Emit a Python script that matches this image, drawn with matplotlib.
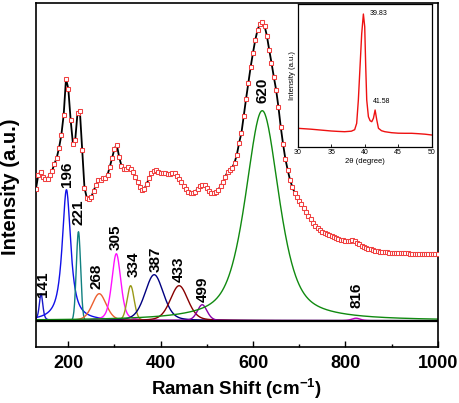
import matplotlib
import numpy as np

matplotlib.use("Agg")
import matplotlib.pyplot as plt  # noqa: E402
from matplotlib.ticker import MultipleLocator  # noqa: E402

plt.rcParams["font.family"] = ["Liberation Sans", "DejaVu Sans"]
plt.rcParams["mathtext.fontset"] = "custom"
plt.rcParams["mathtext.bf"] = "Liberation Sans:bold"
plt.rcParams["mathtext.default"] = "bf"

# measured Raman spectrum, sampled every 5 cm-1 from 130 to 1000
shift = np.arange(130, 1001, 5)
intensity = [
    132, 146, 149, 144, 142, 142, 146, 150, 157, 163, 173, 186, 206, 242, 232,
    201, 177, 181, 208, 210, 171, 133, 123, 122, 124, 130, 136, 141, 141, 143,
    143, 146, 154, 163, 172, 176, 164, 155, 152, 152, 154, 152, 149, 144, 139,
    134, 131, 132, 137, 143, 148, 150, 151, 149, 148, 148, 148, 147, 147, 148,
    148, 145, 142, 139, 135, 132, 129, 128, 128, 129, 132, 135, 136, 136, 133,
    130, 128, 128, 129, 131, 135, 139, 144, 149, 151, 153, 158, 166, 178, 188,
    205, 222, 238, 254, 268, 281, 291, 297, 299, 295, 285, 271, 258, 244, 231,
    214, 194, 177, 162, 151, 141, 134, 128, 124, 120, 117, 113, 109, 105, 102,
    98, 95, 93, 91, 89, 88, 87, 86, 85, 84, 83, 82, 81, 81, 80,
    80, 80, 81, 80, 78, 77, 75, 74, 73, 72, 72, 71, 70, 70, 69,
    69, 69, 69, 68, 68, 68, 68, 68, 68, 68, 68, 68, 67, 67, 67,
    67, 67, 67, 67, 67, 67, 67, 67, 67, 67,
]

# fitted components (pseudo-Voigt): centre, height, fwhm, lorentz fraction
peak_labels = ["141", "196", "221", "268", "305", "334", "387", "433", "499", "620", "816"]
peak_center = [141, 196, 222, 267, 304, 335, 386, 440, 490, 620, 823]
peak_height = [27, 131, 89, 27, 67, 35, 46, 35, 16, 210, 2.5]
peak_fwhm = [9, 22, 11, 36, 23, 18, 47, 45, 25, 86, 22]
peak_eta = [0.5, 0.9, 0.0, 0.3, 0.4, 0.2, 0.3, 0.3, 0.3, 0.6, 0.3]
peak_color = ["#1818c8", "#1010e8", "#108080", "#ec6030", "#ff10ff", "#9a9a18",
              "#000080", "#880000", "#8800a8", "#108a10", "#c000c0"]
label_x = [146, 196.5, 223, 260, 303, 341, 389, 439, 491, 621, 825]
label_y = [24, 134, 96, 32, 71, 44, 49, 39, 19, 218, 13]

# XRD inset
two_theta = [30, 32, 34, 35, 36, 37, 38, 38.5, 38.8, 39.05, 39.3, 39.55, 39.8,
             40.0, 40.15, 40.3, 40.55, 40.8, 41.05, 41.3, 41.55, 41.8, 42.05,
             42.5, 43, 44, 45, 46, 47, 48, 49, 50]
xrd = [18.4, 17.5, 16.3, 15.7, 15.3, 15, 15.5, 17, 23.4, 46.7, 80, 113, 132.7,
       120, 80, 46.7, 30, 26, 25, 28.4, 36.7, 26.7, 18.4, 16, 15, 14, 13.5,
       13.4, 13.4, 13, 12.5, 11.7]


def pvoigt(x, c, h, fwhm, eta):
    u = (x - c) / fwhm
    g = np.exp(-4 * np.log(2) * u ** 2)
    lor = 1 / (1 + 4 * u ** 2)
    return h * (eta * lor + (1 - eta) * g)


fig = plt.figure(figsize=(4.59, 4.03), dpi=100)
ax = fig.add_axes([0.0784, 0.1397, 0.8752, 0.8529])

xf = np.linspace(130, 1000, 1200)
ax.axhline(0, color="k", lw=1.6, zorder=3)
for c, h, w, e, col in zip(peak_center, peak_height, peak_fwhm, peak_eta, peak_color):
    ax.plot(xf, pvoigt(xf, c, h, w, e), color=col, lw=1.0, zorder=2)

ax.plot(shift, intensity, color="k", lw=1.3, zorder=4)
ax.plot(shift, intensity, ls="none", marker="s", ms=3.1, mfc="white",
        mec="#f04040", mew=0.75, zorder=5)

for t, x, y in zip(peak_labels, label_x, label_y):
    ax.text(x, y, t, rotation=90, ha="center", va="bottom", fontsize=11,
            fontweight="bold")

ax.set_xlim(130, 1000)
ax.set_ylim(-26, 317.7)
ax.xaxis.set_major_locator(MultipleLocator(200))
ax.xaxis.set_minor_locator(MultipleLocator(100))
ax.tick_params(axis="x", which="major", direction="in", length=4.5, width=1,
               labelsize=13, pad=6)
ax.tick_params(axis="x", which="minor", direction="in", length=2.5, width=1)
ax.set_yticks([])
for lab in ax.get_xticklabels():
    lab.set_fontweight("bold")
for s in ax.spines.values():
    s.set_linewidth(1.2)
ax.set_xlabel(r"Raman Shift (cm$^{-1}$)", fontsize=13.5, fontweight="bold")
ax.set_ylabel("Intensity (a.u.)", fontsize=14.5, fontweight="bold")
ax.yaxis.set_label_coords(-0.04, 0.464)
ax.xaxis.set_label_coords(0.498, -0.088)

# inset
axi = fig.add_axes([0.6486, 0.636, 0.292, 0.354])
axi.plot(two_theta, xrd, color="#ee1111", lw=1.0)
axi.text(40.7, 133.7, "39.83", fontsize=5, va="center")
axi.text(41.2, 45.7, "41.58", fontsize=5, va="center")
axi.set_xlim(30, 50)
axi.set_ylim(0, 142.7)
axi.set_xticks([30, 35, 40, 45, 50])
axi.set_yticks([])
axi.tick_params(axis="x", direction="in", length=2, width=0.6, labelsize=5, pad=1.5)
for s in axi.spines.values():
    s.set_linewidth(0.9)
axi.set_xlabel("2θ (degree)", fontsize=5.5, labelpad=1.5)
axi.set_ylabel("Intensity (a.u.)", fontsize=5.5, labelpad=1.5)

fig.savefig("out.png", dpi=100)
